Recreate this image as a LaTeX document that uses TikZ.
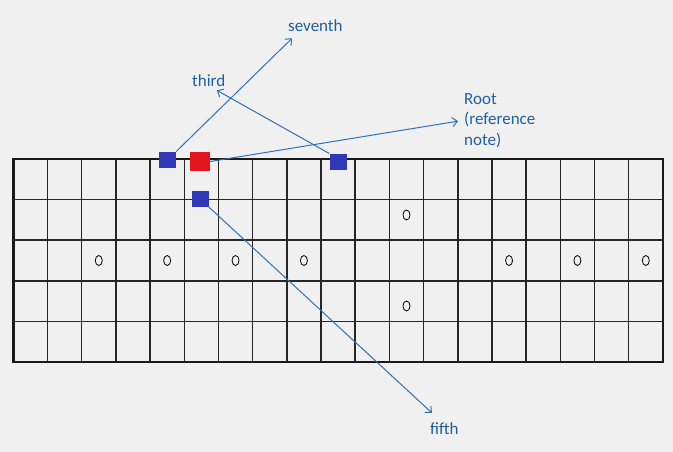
\documentclass[tikz,border=0pt]{standalone}
\usepackage{fontspec}
\setmainfont{Carlito}
\usetikzlibrary{shapes.geometric,arrows.meta}

\definecolor{boardbg}{HTML}{F0F0F0}
\definecolor{notetext}{HTML}{1F5FA0}
\definecolor{pointerline}{HTML}{2F72B8}
\definecolor{notered}{HTML}{E3151F}
\definecolor{noteblue}{HTML}{3038B8}

\tikzset{
  fret/.style={line width=1.5pt, black!85},
  tone/.style={draw=none, fill=noteblue, minimum width=17pt, minimum height=16pt, inner sep=0pt},
  rootnote/.style={tone, fill=notered, minimum width=20pt, minimum height=18pt},
  inlay/.style={ellipse, draw, line width=0.8pt, minimum width=7pt, minimum height=10pt, inner sep=0pt},
  chordlabel/.style={text=notetext, font=\fontsize{17}{20.5}\selectfont, inner sep=1pt},
  pointer/.style={draw=pointerline, line width=1pt, -{Straight Barb[length=5pt,width=9pt]}},
}

\begin{document}
\begin{tikzpicture}[x=1pt,y=-1pt]
    \useasboundingbox[fill=boardbg] (0,0) rectangle (673,452);

    % the fretboard
    \foreach \c in {1,...,18}
      \draw[fret] ({13.3+\c*34.19},159) -- ({13.3+\c*34.19},362);
    \foreach \r in {1,...,4}
      \draw[fret] (13.3,{159+\r*40.6}) -- (663,{159+\r*40.6});
    \draw[line width=2.4pt, black!90] (13.3,159) rectangle (663,362);

    % position markers
    \foreach \c in {3,5,7,9,15,17,19}
      \node[inlay] (inlay\c) at ({13.3+(\c-0.5)*34.19},260.5) {};
    \node[inlay] (inlayup) at (406.5,215) {};
    \node[inlay] (inlaydown) at (406.5,306) {};

    % chord tones
    \node[tone] (sev) at (167.5,159.7) {};
    \node[rootnote] (rt) at (200,161.5) {};
    \node[tone] (thd) at (338,161.7) {};
    \node[tone] (fif) at (200,198.7) {};

    \node[chordlabel, anchor=base west] (sevlabel) at (287,32) {seventh};
    \node[chordlabel, anchor=base west] (thdlabel) at (191,87) {third};
    \node[chordlabel, anchor=north west, align=left] (rtlabel) at (463,92) {Root\\(reference\\note)};
    \node[chordlabel, anchor=base west] (fiflabel) at (429,434) {fifth};

    \draw[pointer] (sev.north east) -- ([xshift=5pt,yshift=-5pt]sevlabel.south west);
    \draw[pointer] (thd.north west) -- ([xshift=8pt,yshift=-2pt]thdlabel.south);
    \draw[pointer, shorten >=5pt] (rt.east) -- (rtlabel.west);
    \draw[pointer] (fif.south east) -- ([xshift=3pt,yshift=8pt]fiflabel.north west);
\end{tikzpicture}
\end{document}
